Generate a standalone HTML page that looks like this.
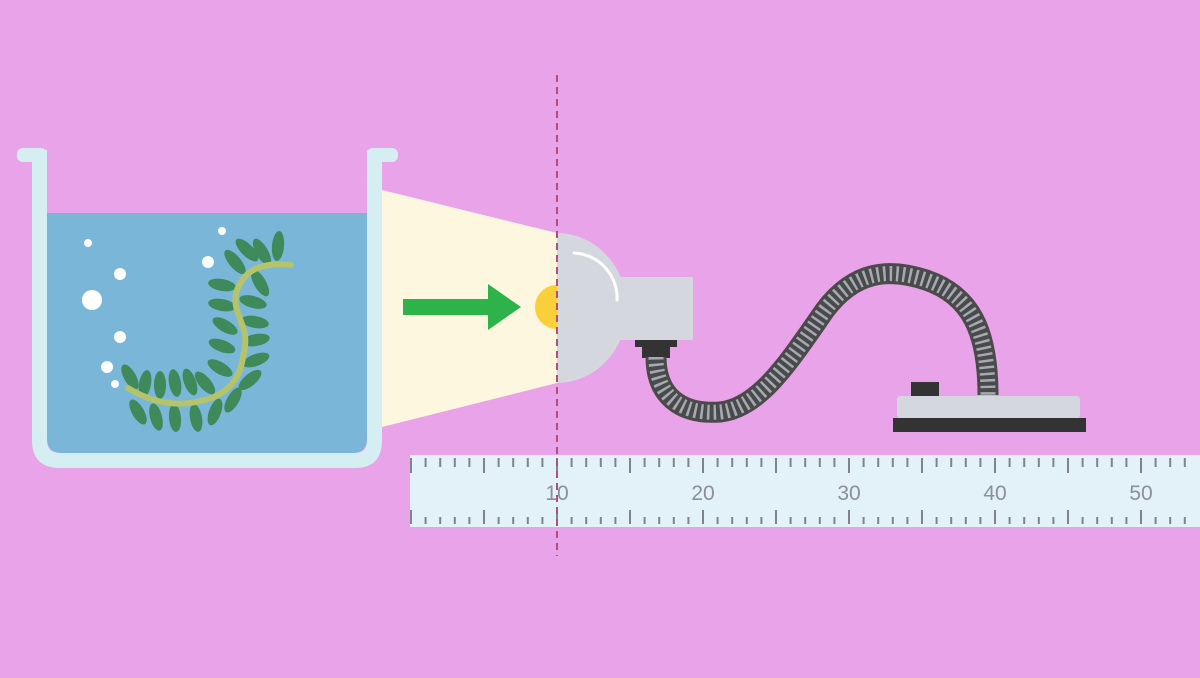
<!DOCTYPE html>
<html><head><meta charset="utf-8"><style>
html,body{margin:0;padding:0;background:#e9a3e8;}
svg{display:block}
</style></head><body>
<svg width="1200" height="678" viewBox="0 0 1200 678" xmlns="http://www.w3.org/2000/svg">
<rect width="1200" height="678" fill="#e9a3e8"/>
<!-- light cone -->
<polygon points="382,190 557,233 557,383 382,427" fill="#fdf7e0"/>
<!-- beaker -->
<rect x="17" y="148" width="30" height="14" rx="6" fill="#d5eef2"/>
<rect x="367" y="148" width="31" height="14" rx="6" fill="#d5eef2"/>
<path d="M32,150 H47 V440 Q47,453 60,453 H355 Q367,453 367,440 V150 H382 V440 Q382,468 355,468 H60 Q32,468 32,440 Z" fill="#d5eef2"/>
<path d="M47,213 H367 V438 Q367,453 352,453 H62 Q47,453 47,438 Z" fill="#79b6d8"/>
<!-- bubbles -->
<g fill="#fff">
<circle cx="88" cy="243" r="4"/><circle cx="120" cy="274" r="6"/><circle cx="92" cy="300" r="10"/>
<circle cx="120" cy="337" r="6"/><circle cx="107" cy="367" r="6"/><circle cx="115" cy="384" r="4"/>
<circle cx="222" cy="231" r="4"/><circle cx="208" cy="262" r="6"/>
</g>
<!-- leaves -->
<g fill="#3e8a5a">
<ellipse cx="278" cy="246" rx="6" ry="15" transform="rotate(5 278 246)"/>
<ellipse cx="262" cy="252" rx="6" ry="15" transform="rotate(-30 262 252)"/>
<ellipse cx="247" cy="250" rx="6" ry="15" transform="rotate(-45 247 250)"/>
<ellipse cx="235" cy="262" rx="6" ry="15" transform="rotate(-40 235 262)"/>
<ellipse cx="260" cy="283" rx="6" ry="15" transform="rotate(-30 260 283)"/>
<ellipse cx="222" cy="285" rx="6" ry="14" transform="rotate(-80 222 285)"/>
<ellipse cx="253" cy="302" rx="6" ry="14" transform="rotate(-75 253 302)"/>
<ellipse cx="222" cy="305" rx="6" ry="14" transform="rotate(-80 222 305)"/>
<ellipse cx="255" cy="322" rx="6" ry="14" transform="rotate(-80 255 322)"/>
<ellipse cx="225" cy="326" rx="6" ry="14" transform="rotate(-60 225 326)"/>
<ellipse cx="256" cy="340" rx="6" ry="14" transform="rotate(-100 256 340)"/>
<ellipse cx="222" cy="346" rx="6" ry="14" transform="rotate(-70 222 346)"/>
<ellipse cx="256" cy="360" rx="6" ry="14" transform="rotate(-110 256 360)"/>
<ellipse cx="220" cy="368" rx="6" ry="14" transform="rotate(-60 220 368)"/>
<ellipse cx="250" cy="380" rx="6" ry="14" transform="rotate(-130 250 380)"/>
<ellipse cx="205" cy="383" rx="6" ry="14" transform="rotate(-40 205 383)"/>
<ellipse cx="233" cy="400" rx="6" ry="14" transform="rotate(-150 233 400)"/>
<ellipse cx="190" cy="382" rx="6" ry="14" transform="rotate(-20 190 382)"/>
<ellipse cx="215" cy="412" rx="6" ry="14" transform="rotate(-160 215 412)"/>
<ellipse cx="175" cy="383" rx="6" ry="14" transform="rotate(-10 175 383)"/>
<ellipse cx="196" cy="418" rx="6" ry="14" transform="rotate(170 196 418)"/>
<ellipse cx="160" cy="385" rx="6" ry="14" transform="rotate(0 160 385)"/>
<ellipse cx="175" cy="418" rx="6" ry="14" transform="rotate(175 175 418)"/>
<ellipse cx="145" cy="384" rx="6" ry="14" transform="rotate(10 145 384)"/>
<ellipse cx="156" cy="417" rx="6" ry="14" transform="rotate(165 156 417)"/>
<ellipse cx="130" cy="377" rx="6" ry="14" transform="rotate(-30 130 377)"/>
<ellipse cx="138" cy="412" rx="6" ry="14" transform="rotate(150 138 412)"/>
</g>
<path d="M291,265 C260,262 245,270 237,290 C230,310 248,325 245,345 C242,365 240,385 214,397 C190,406 160,408 128,388" fill="none" stroke="#b5c46a" stroke-width="6" stroke-linecap="round"/>
<!-- arrow -->
<rect x="403" y="299" width="88" height="16" fill="#2db34a"/>
<polygon points="488,284 521,307 488,330" fill="#2db34a"/>
<!-- lamp -->
<path d="M557,233 A70,75 0 0 1 557,383 Z" fill="#d4d8de"/>
<rect x="610" y="277" width="83" height="63" fill="#d4d8de"/>
<path d="M574,253 A45,45 0 0 1 617,300" fill="none" stroke="#fff" stroke-width="3" stroke-linecap="round"/>
<path d="M557,285 A22,22 0 0 0 557,329 Z" fill="#f9cf3a"/>
<rect x="635" y="340" width="42" height="7" fill="#333"/>
<rect x="642" y="347" width="28" height="11" fill="#333"/>
<!-- hose -->
<path d="M656,357 C656,395 680,415 720,412 C760,408 790,360 825,310 C855,270 890,268 926,280 C970,295 988,330 988,395" fill="none" stroke="#4a4a4a" stroke-width="21"/>
<path d="M656,357 C656,395 680,415 720,412 C760,408 790,360 825,310 C855,270 890,268 926,280 C970,295 988,330 988,395" fill="none" stroke="#a4aab2" stroke-width="15" stroke-dasharray="2.5 4"/>
<!-- base -->
<rect x="911" y="382" width="28" height="15" fill="#333"/>
<rect x="897" y="396" width="183" height="22" rx="3" fill="#d4d8de"/>
<rect x="893" y="418" width="193" height="14" fill="#333"/>
<!-- ruler -->
<rect x="410" y="455" width="790" height="72" fill="#e2f2f8"/>
<g id="ticks" stroke="#7f838c" stroke-width="2"></g>
<g font-family="'Liberation Sans Narrow','Liberation Sans',sans-serif" font-size="21" fill="#8a8f99" text-anchor="middle">
<text x="557" y="500">10</text><text x="703" y="500">20</text><text x="849" y="500">30</text><text x="995" y="500">40</text><text x="1141" y="500">50</text>
</g>
<!-- dashed line -->
<line x1="557" y1="75" x2="557" y2="556" stroke="#b04e7e" stroke-width="2" stroke-dasharray="7 5"/>
</svg>
<script>
var g=document.getElementById('ticks'),s='';
for(var u=0;u<=55;u++){var x=411+u*14.6;if(x>1198)break;var m=u%5==0;
s+='<line x1="'+x+'" y1="458" x2="'+x+'" y2="'+(m?473:467)+'"/>';
s+='<line x1="'+x+'" y1="524" x2="'+x+'" y2="'+(m?510:517)+'"/>';}
g.innerHTML=s;
</script>
</body></html>
